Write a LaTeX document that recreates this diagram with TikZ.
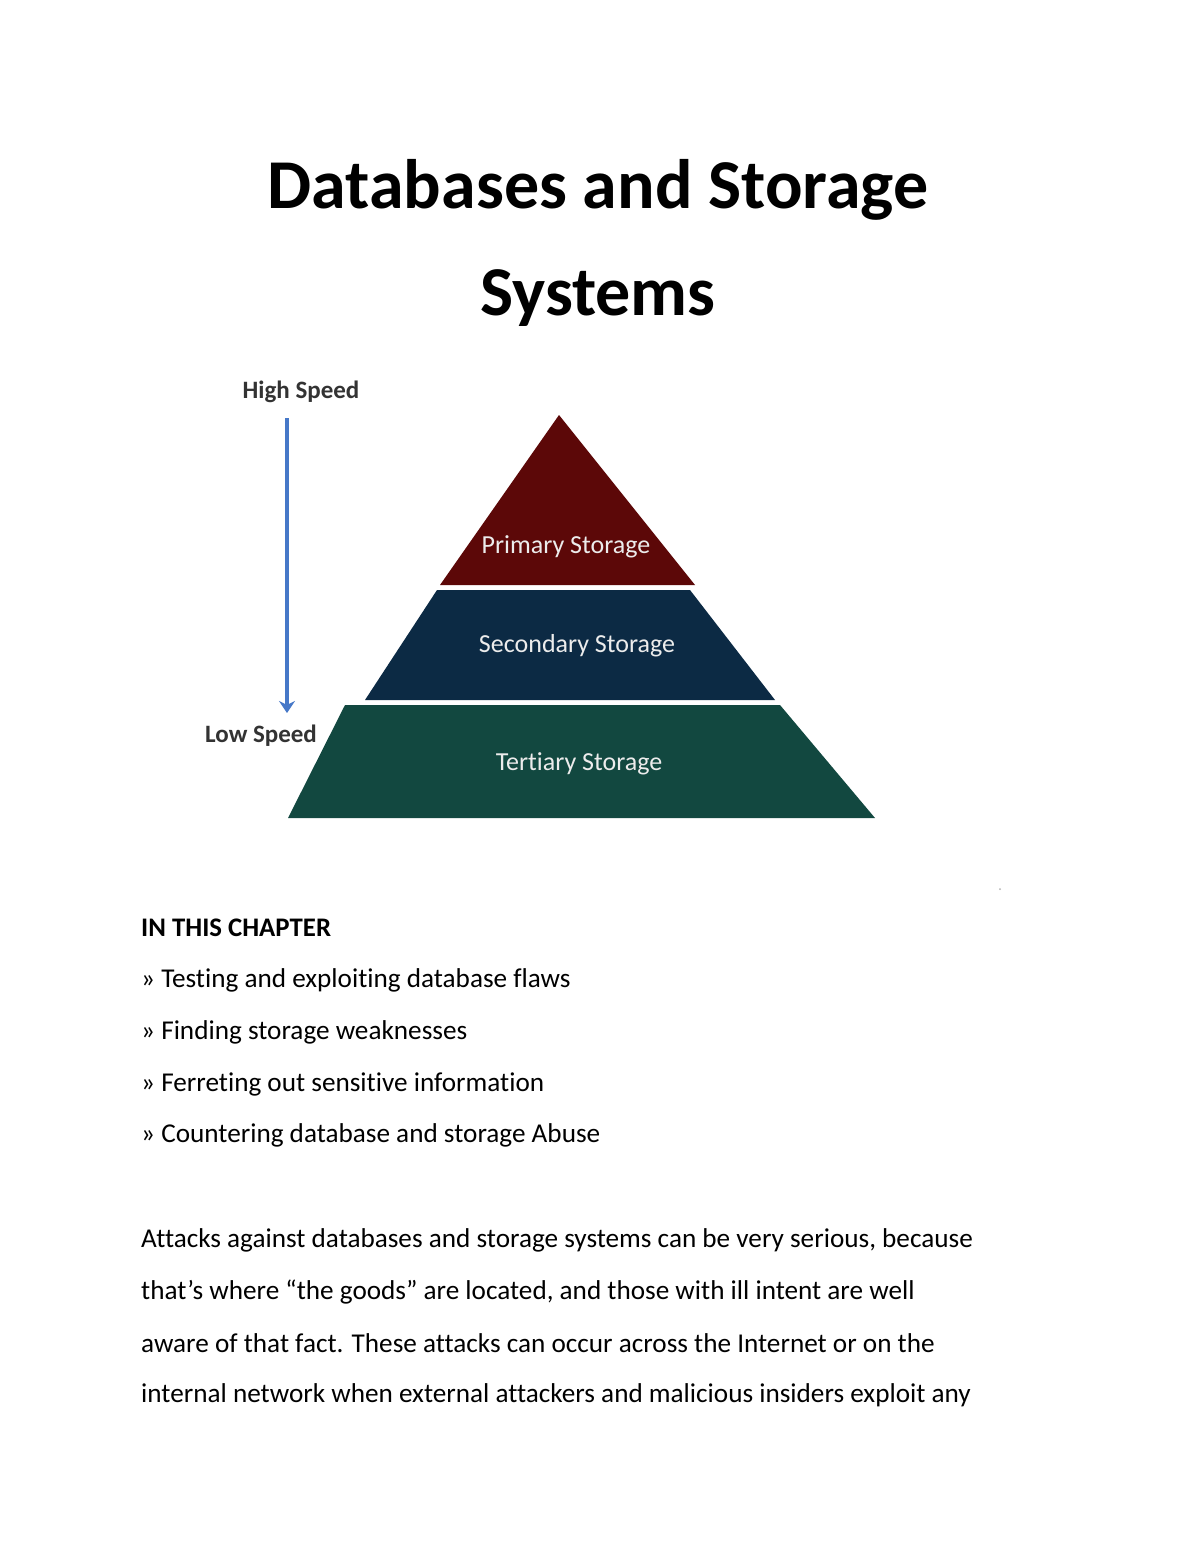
\documentclass[tikz,border=0pt]{standalone}
\usepackage{fontspec}
\setmainfont[Ligatures=NoCommon]{Carlito}
\usetikzlibrary{arrows.meta}
\begin{document}
\begin{tikzpicture}[x=1pt,y=-1pt,
  body/.style={anchor=west,inner sep=0pt,font=\fontsize{27.2}{30}\selectfont},
  title/.style={inner sep=0pt,font=\fontsize{70}{76}\selectfont\bfseries},
  lvl/.style={inner sep=0pt,text=white!85!gray,font=\fontsize{26}{30}\selectfont},
  spd/.style={inner sep=0pt,text=black!80,font=\fontsize{25}{30}\selectfont\bfseries}]
\useasboundingbox[fill=white] (0,0) rectangle (1200,1553);
\node[title] (t1) at (598,190) {Databases and Storage};
\node[title] (t2) at (598,298) {Systems};
\fill[fill={rgb,255:red,92;green,8;blue,8}] (559,415) -- (695,585) -- (440,585) -- cycle;
\fill[fill={rgb,255:red,12;green,42;blue,68}] (437,590) -- (690,590) -- (775,700) -- (365,700) -- cycle;
\fill[fill={rgb,255:red,18;green,72;blue,64}] (345,705) -- (780,705) -- (875,818) -- (288,818) -- cycle;
\node[lvl] (p) at (566,547) {Primary Storage};
\node[lvl] (s) at (577,646) {Secondary Storage};
\node[lvl] (te) at (579,764) {Tertiary Storage};
\node[spd] (hs) at (301,392) {High Speed};
\node[spd] (ls) at (261,736) {Low Speed};
\draw[line width=3.5pt,color={rgb,255:red,70;green,120;blue,200},-{Stealth[length=12pt,width=16pt]}] (287,418) -- (287,713);
\fill[gray!60] (1000,889) circle (1);
\node[body,font=\fontsize{26.8}{30}\selectfont\bfseries] (h) at (141,928) {IN THIS CHAPTER};
\node[body] (b1) at (141,980) {» Testing and exploiting database flaws};
\node[body] (b2) at (141,1032) {» Finding storage weaknesses};
\node[body] (b3) at (141,1084) {» Ferreting out sensitive information};
\node[body] (b4) at (141,1135) {» Countering database and storage Abuse};
\node[body] (l1) at (141,1240) {Attacks against databases and storage systems can be very serious, because};
\node[body] (l2) at (141,1292) {that’s where “the goods” are located, and those with ill intent are well};
\node[body] (l3) at (141,1343) {aware of that fact. These attacks can occur across the Internet or on the};
\node[body] (l4) at (141,1395) {internal network when external attackers and malicious insiders exploit any};
\end{tikzpicture}
\end{document}
